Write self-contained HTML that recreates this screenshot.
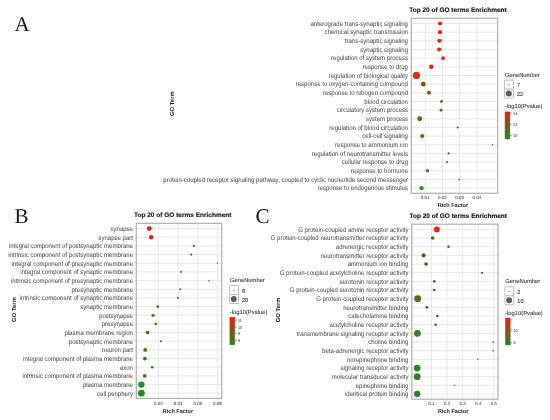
<!DOCTYPE html>
<html><head><meta charset="utf-8"><title>GO enrichment</title>
<style>
html,body{margin:0;padding:0;background:#fff;}
body{width:550px;height:420px;overflow:hidden;}
svg{display:block;}
text{font-family:"Liberation Sans",Arial,sans-serif;text-rendering:geometricPrecision;}
.let{font-family:"Liberation Serif","Times New Roman",serif;font-size:21px;fill:#111;}
.ttl{font-weight:bold;font-size:6.6px;fill:#111;stroke:#111;stroke-width:0.12px;}
.lab{font-size:6.7px;fill:#4e4e4e;stroke:#4e4e4e;stroke-width:0.04px;text-anchor:end;}
.tk{font-size:4.5px;fill:#5a5a5a;stroke:#5a5a5a;stroke-width:0.08px;text-anchor:middle;}
.ax{font-weight:bold;font-size:5.5px;fill:#222;text-anchor:middle;}
.gt{font-size:5.9px;}
.lg{font-size:5.8px;fill:#3a3a3a;stroke:#3a3a3a;stroke-width:0.1px;}
.lgk{font-size:5.6px;fill:#3a3a3a;stroke:#3a3a3a;stroke-width:0.1px;}
.bt{font-size:3.8px;fill:#505050;stroke:#505050;stroke-width:0.06px;}
</style></head>
<body>
<svg width="550" height="420" viewBox="0 0 550 420">
<rect width="550" height="420" fill="#fff"/>
<g id="panelA">
<text x="14.6" y="30.5" class="let">A</text>
<text x="409.2" y="11.6" class="ttl" textLength="97.5" lengthAdjust="spacingAndGlyphs">Top 20 of GO terms Enrichment</text>
<g stroke="#e8e8e8" stroke-width="1">
<line x1="411.3" y1="23.5" x2="497.6" y2="23.5"/>
<line x1="411.3" y1="32.16" x2="497.6" y2="32.16"/>
<line x1="411.3" y1="40.82" x2="497.6" y2="40.82"/>
<line x1="411.3" y1="49.49" x2="497.6" y2="49.49"/>
<line x1="411.3" y1="58.15" x2="497.6" y2="58.15"/>
<line x1="411.3" y1="66.81" x2="497.6" y2="66.81"/>
<line x1="411.3" y1="75.48" x2="497.6" y2="75.48"/>
<line x1="411.3" y1="84.14" x2="497.6" y2="84.14"/>
<line x1="411.3" y1="92.8" x2="497.6" y2="92.8"/>
<line x1="411.3" y1="101.47" x2="497.6" y2="101.47"/>
<line x1="411.3" y1="110.13" x2="497.6" y2="110.13"/>
<line x1="411.3" y1="118.8" x2="497.6" y2="118.8"/>
<line x1="411.3" y1="127.46" x2="497.6" y2="127.46"/>
<line x1="411.3" y1="136.12" x2="497.6" y2="136.12"/>
<line x1="411.3" y1="144.79" x2="497.6" y2="144.79"/>
<line x1="411.3" y1="153.45" x2="497.6" y2="153.45"/>
<line x1="411.3" y1="162.11" x2="497.6" y2="162.11"/>
<line x1="411.3" y1="170.78" x2="497.6" y2="170.78"/>
<line x1="411.3" y1="179.44" x2="497.6" y2="179.44"/>
<line x1="411.3" y1="188.1" x2="497.6" y2="188.1"/>
<line x1="425.2" y1="18.3" x2="425.2" y2="193.3"/>
<line x1="442.5" y1="18.3" x2="442.5" y2="193.3"/>
<line x1="459.7" y1="18.3" x2="459.7" y2="193.3"/>
<line x1="477" y1="18.3" x2="477" y2="193.3"/>
</g>
<rect x="411.3" y="18.3" width="86.3" height="175" fill="none" stroke="#b2b2b2" stroke-width="1.25"/>
<g stroke="#c8c8c8" stroke-width="0.6">
<line x1="409.7" y1="23.5" x2="411.3" y2="23.5"/>
<line x1="409.7" y1="32.16" x2="411.3" y2="32.16"/>
<line x1="409.7" y1="40.82" x2="411.3" y2="40.82"/>
<line x1="409.7" y1="49.49" x2="411.3" y2="49.49"/>
<line x1="409.7" y1="58.15" x2="411.3" y2="58.15"/>
<line x1="409.7" y1="66.81" x2="411.3" y2="66.81"/>
<line x1="409.7" y1="75.48" x2="411.3" y2="75.48"/>
<line x1="409.7" y1="84.14" x2="411.3" y2="84.14"/>
<line x1="409.7" y1="92.8" x2="411.3" y2="92.8"/>
<line x1="409.7" y1="101.47" x2="411.3" y2="101.47"/>
<line x1="409.7" y1="110.13" x2="411.3" y2="110.13"/>
<line x1="409.7" y1="118.8" x2="411.3" y2="118.8"/>
<line x1="409.7" y1="127.46" x2="411.3" y2="127.46"/>
<line x1="409.7" y1="136.12" x2="411.3" y2="136.12"/>
<line x1="409.7" y1="144.79" x2="411.3" y2="144.79"/>
<line x1="409.7" y1="153.45" x2="411.3" y2="153.45"/>
<line x1="409.7" y1="162.11" x2="411.3" y2="162.11"/>
<line x1="409.7" y1="170.78" x2="411.3" y2="170.78"/>
<line x1="409.7" y1="179.44" x2="411.3" y2="179.44"/>
<line x1="409.7" y1="188.1" x2="411.3" y2="188.1"/>
<line x1="425.2" y1="193.3" x2="425.2" y2="194.9"/>
<line x1="442.5" y1="193.3" x2="442.5" y2="194.9"/>
<line x1="459.7" y1="193.3" x2="459.7" y2="194.9"/>
<line x1="477" y1="193.3" x2="477" y2="194.9"/>
</g>
<text x="408" y="25.8" class="lab" textLength="97.52" lengthAdjust="spacingAndGlyphs">anterograde trans-synaptic signaling</text>
<text x="408" y="34.46" class="lab" textLength="83.38" lengthAdjust="spacingAndGlyphs">chemical synaptic transmission</text>
<text x="408" y="43.12" class="lab" textLength="63.22" lengthAdjust="spacingAndGlyphs">trans-synaptic signaling</text>
<text x="408" y="51.79" class="lab" textLength="47.75" lengthAdjust="spacingAndGlyphs">synaptic signaling</text>
<text x="408" y="60.45" class="lab" textLength="77" lengthAdjust="spacingAndGlyphs">regulation of system process</text>
<text x="408" y="69.11" class="lab" textLength="45.4" lengthAdjust="spacingAndGlyphs">response to drug</text>
<text x="408" y="77.78" class="lab" textLength="79.37" lengthAdjust="spacingAndGlyphs">regulation of biological quality</text>
<text x="408" y="86.44" class="lab" textLength="112.33" lengthAdjust="spacingAndGlyphs">response to oxygen-containing compound</text>
<text x="408" y="95.1" class="lab" textLength="85.09" lengthAdjust="spacingAndGlyphs">response to nitrogen compound</text>
<text x="408" y="103.77" class="lab" textLength="43.72" lengthAdjust="spacingAndGlyphs">blood circulation</text>
<text x="408" y="112.43" class="lab" textLength="71.27" lengthAdjust="spacingAndGlyphs">circulatory system process</text>
<text x="408" y="121.1" class="lab" textLength="42.02" lengthAdjust="spacingAndGlyphs">system process</text>
<text x="408" y="129.76" class="lab" textLength="78.69" lengthAdjust="spacingAndGlyphs">regulation of blood circulation</text>
<text x="408" y="138.42" class="lab" textLength="45.73" lengthAdjust="spacingAndGlyphs">cell-cell signaling</text>
<text x="408" y="147.09" class="lab" textLength="72.97" lengthAdjust="spacingAndGlyphs">response to ammonium ion</text>
<text x="408" y="155.75" class="lab" textLength="96.17" lengthAdjust="spacingAndGlyphs">regulation of neurotransmitter levels</text>
<text x="408" y="164.41" class="lab" textLength="66.25" lengthAdjust="spacingAndGlyphs">cellular response to drug</text>
<text x="408" y="173.08" class="lab" textLength="57.17" lengthAdjust="spacingAndGlyphs">response to hormone</text>
<text x="408" y="181.74" class="lab" textLength="244.7" lengthAdjust="spacingAndGlyphs">protein-coupled receptor signaling pathway, coupled to cyclic nucleotide second messenger</text>
<text x="408" y="190.4" class="lab" textLength="90.47" lengthAdjust="spacingAndGlyphs">response to endogenous stimulus</text>
<circle cx="440.1" cy="23.5" r="2.07" fill="#f81a0e"/>
<circle cx="440" cy="32.16" r="2.07" fill="#f81a0e"/>
<circle cx="439.4" cy="40.82" r="2.07" fill="#f81a0e"/>
<circle cx="439.1" cy="49.49" r="2.07" fill="#f81a0e"/>
<circle cx="443.1" cy="58.15" r="1.86" fill="#e8200e"/>
<circle cx="431.3" cy="66.81" r="2.22" fill="#d43018"/>
<circle cx="416.4" cy="75.48" r="3.63" fill="#dc3210"/>
<circle cx="423.3" cy="84.14" r="2.33" fill="#8e4a12"/>
<circle cx="428.9" cy="92.8" r="2.02" fill="#8a4c12"/>
<circle cx="441.5" cy="101.47" r="1.39" fill="#6e5212"/>
<circle cx="441" cy="110.13" r="1.39" fill="#6e5212"/>
<circle cx="419.7" cy="118.8" r="2.43" fill="#6a6214"/>
<circle cx="457.7" cy="127.46" r="1.08" fill="#545818"/>
<circle cx="422.2" cy="136.12" r="2.12" fill="#4c7422"/>
<circle cx="492.5" cy="144.79" r="0.77" fill="#5a6418"/>
<circle cx="448.6" cy="153.45" r="1.08" fill="#347a24"/>
<circle cx="447" cy="162.11" r="1.08" fill="#347a24"/>
<circle cx="427.4" cy="170.78" r="1.7" fill="#2e8624"/>
<circle cx="459.4" cy="179.44" r="0.87" fill="#3a8a2a"/>
<circle cx="421.5" cy="188.1" r="2.22" fill="#2e8a26"/>
<text x="425.2" y="199.4" class="tk">0.01</text>
<text x="442.5" y="199.4" class="tk">0.02</text>
<text x="459.7" y="199.4" class="tk">0.03</text>
<text x="477" y="199.4" class="tk">0.04</text>
<text x="452.9" y="206.9" class="ax">Rich Factor</text>
<text x="0" y="0" class="ax gt" transform="translate(173.5,103.7) rotate(-90)">GO Term</text>
<text x="505" y="76.9" class="lg">GeneNumber</text>
<rect x="504.5" y="80.1" width="9.0" height="9.1" rx="0.8" fill="#fff" stroke="#b0b0b0" stroke-width="0.8"/>
<rect x="504.5" y="89.2" width="9.0" height="8.9" rx="0.8" fill="#fff" stroke="#b0b0b0" stroke-width="0.8"/>
<circle cx="508.8" cy="84.7" r="0.6" fill="#555"/>
<circle cx="508.8" cy="93.5" r="3.0" fill="#5a5a5a"/>
<text x="517" y="87.3" class="lgk">7</text>
<text x="517" y="96.3" class="lgk">22</text>
<text x="504.8" y="108.2" class="lg">-log10(Pvalue)</text>
<defs><linearGradient id="gA" x1="0" y1="0" x2="0" y2="1"><stop offset="0" stop-color="#f01c14"/><stop offset="1" stop-color="#228b22"/></linearGradient></defs>
<rect x="504.8" y="111.6" width="5.3" height="27.6" fill="url(#gA)"/>
<line x1="510.1" y1="113" x2="511.5" y2="113" stroke="#444" stroke-width="0.7"/>
<text x="513.1" y="114.6" class="bt">14</text>
<line x1="510.1" y1="124.2" x2="511.5" y2="124.2" stroke="#444" stroke-width="0.7"/>
<text x="513.1" y="125.8" class="bt">12</text>
<line x1="510.1" y1="135.4" x2="511.5" y2="135.4" stroke="#444" stroke-width="0.7"/>
<text x="513.1" y="137" class="bt">10</text>
</g>
<g id="panelB">
<text x="14.6" y="222.7" class="let">B</text>
<text x="134" y="216.8" class="ttl" textLength="97.5" lengthAdjust="spacingAndGlyphs">Top 20 of GO terms Enrichment</text>
<g stroke="#e8e8e8" stroke-width="1">
<line x1="136.3" y1="228.6" x2="221.7" y2="228.6"/>
<line x1="136.3" y1="237.26" x2="221.7" y2="237.26"/>
<line x1="136.3" y1="245.92" x2="221.7" y2="245.92"/>
<line x1="136.3" y1="254.59" x2="221.7" y2="254.59"/>
<line x1="136.3" y1="263.25" x2="221.7" y2="263.25"/>
<line x1="136.3" y1="271.91" x2="221.7" y2="271.91"/>
<line x1="136.3" y1="280.58" x2="221.7" y2="280.58"/>
<line x1="136.3" y1="289.24" x2="221.7" y2="289.24"/>
<line x1="136.3" y1="297.9" x2="221.7" y2="297.9"/>
<line x1="136.3" y1="306.57" x2="221.7" y2="306.57"/>
<line x1="136.3" y1="315.23" x2="221.7" y2="315.23"/>
<line x1="136.3" y1="323.9" x2="221.7" y2="323.9"/>
<line x1="136.3" y1="332.56" x2="221.7" y2="332.56"/>
<line x1="136.3" y1="341.22" x2="221.7" y2="341.22"/>
<line x1="136.3" y1="349.89" x2="221.7" y2="349.89"/>
<line x1="136.3" y1="358.55" x2="221.7" y2="358.55"/>
<line x1="136.3" y1="367.21" x2="221.7" y2="367.21"/>
<line x1="136.3" y1="375.88" x2="221.7" y2="375.88"/>
<line x1="136.3" y1="384.54" x2="221.7" y2="384.54"/>
<line x1="136.3" y1="393.2" x2="221.7" y2="393.2"/>
<line x1="158.3" y1="223.4" x2="158.3" y2="398.4"/>
<line x1="178.1" y1="223.4" x2="178.1" y2="398.4"/>
<line x1="197.8" y1="223.4" x2="197.8" y2="398.4"/>
<line x1="217.5" y1="223.4" x2="217.5" y2="398.4"/>
</g>
<rect x="136.3" y="223.4" width="85.4" height="175" fill="none" stroke="#b2b2b2" stroke-width="1.25"/>
<g stroke="#c8c8c8" stroke-width="0.6">
<line x1="134.7" y1="228.6" x2="136.3" y2="228.6"/>
<line x1="134.7" y1="237.26" x2="136.3" y2="237.26"/>
<line x1="134.7" y1="245.92" x2="136.3" y2="245.92"/>
<line x1="134.7" y1="254.59" x2="136.3" y2="254.59"/>
<line x1="134.7" y1="263.25" x2="136.3" y2="263.25"/>
<line x1="134.7" y1="271.91" x2="136.3" y2="271.91"/>
<line x1="134.7" y1="280.58" x2="136.3" y2="280.58"/>
<line x1="134.7" y1="289.24" x2="136.3" y2="289.24"/>
<line x1="134.7" y1="297.9" x2="136.3" y2="297.9"/>
<line x1="134.7" y1="306.57" x2="136.3" y2="306.57"/>
<line x1="134.7" y1="315.23" x2="136.3" y2="315.23"/>
<line x1="134.7" y1="323.9" x2="136.3" y2="323.9"/>
<line x1="134.7" y1="332.56" x2="136.3" y2="332.56"/>
<line x1="134.7" y1="341.22" x2="136.3" y2="341.22"/>
<line x1="134.7" y1="349.89" x2="136.3" y2="349.89"/>
<line x1="134.7" y1="358.55" x2="136.3" y2="358.55"/>
<line x1="134.7" y1="367.21" x2="136.3" y2="367.21"/>
<line x1="134.7" y1="375.88" x2="136.3" y2="375.88"/>
<line x1="134.7" y1="384.54" x2="136.3" y2="384.54"/>
<line x1="134.7" y1="393.2" x2="136.3" y2="393.2"/>
<line x1="158.3" y1="398.4" x2="158.3" y2="400"/>
<line x1="178.1" y1="398.4" x2="178.1" y2="400"/>
<line x1="197.8" y1="398.4" x2="197.8" y2="400"/>
<line x1="217.5" y1="398.4" x2="217.5" y2="400"/>
</g>
<text x="133" y="230.9" class="lab" textLength="22.53" lengthAdjust="spacingAndGlyphs">synapse</text>
<text x="133" y="239.56" class="lab" textLength="34.64" lengthAdjust="spacingAndGlyphs">synapse part</text>
<text x="133" y="248.22" class="lab" textLength="124.08" lengthAdjust="spacingAndGlyphs">integral component of postsynaptic membrane</text>
<text x="133" y="256.89" class="lab" textLength="124.75" lengthAdjust="spacingAndGlyphs">intrinsic component of postsynaptic membrane</text>
<text x="133" y="265.55" class="lab" textLength="121.39" lengthAdjust="spacingAndGlyphs">integral component of presynaptic membrane</text>
<text x="133" y="274.21" class="lab" textLength="112.65" lengthAdjust="spacingAndGlyphs">integral component of synaptic membrane</text>
<text x="133" y="282.88" class="lab" textLength="122.06" lengthAdjust="spacingAndGlyphs">intrinsic component of presynaptic membrane</text>
<text x="133" y="291.54" class="lab" textLength="61.53" lengthAdjust="spacingAndGlyphs">presynaptic membrane</text>
<text x="133" y="300.2" class="lab" textLength="113.31" lengthAdjust="spacingAndGlyphs">intrinsic component of synaptic membrane</text>
<text x="133" y="308.87" class="lab" textLength="52.79" lengthAdjust="spacingAndGlyphs">synaptic membrane</text>
<text x="133" y="317.53" class="lab" textLength="33.97" lengthAdjust="spacingAndGlyphs">postsynapse</text>
<text x="133" y="326.2" class="lab" textLength="31.28" lengthAdjust="spacingAndGlyphs">presynapse</text>
<text x="133" y="334.86" class="lab" textLength="68.59" lengthAdjust="spacingAndGlyphs">plasma membrane region</text>
<text x="133" y="343.52" class="lab" textLength="64.22" lengthAdjust="spacingAndGlyphs">postsynaptic membrane</text>
<text x="133" y="352.19" class="lab" textLength="30.94" lengthAdjust="spacingAndGlyphs">neuron part</text>
<text x="133" y="360.85" class="lab" textLength="109.96" lengthAdjust="spacingAndGlyphs">integral component of plasma membrane</text>
<text x="133" y="369.51" class="lab" textLength="13.12" lengthAdjust="spacingAndGlyphs">axon</text>
<text x="133" y="378.18" class="lab" textLength="110.62" lengthAdjust="spacingAndGlyphs">intrinsic component of plasma membrane</text>
<text x="133" y="386.84" class="lab" textLength="50.1" lengthAdjust="spacingAndGlyphs">plasma membrane</text>
<text x="133" y="395.5" class="lab" textLength="35.98" lengthAdjust="spacingAndGlyphs">cell periphery</text>
<circle cx="149.2" cy="228.6" r="2.38" fill="#f81a0e"/>
<circle cx="151.1" cy="237.26" r="2.22" fill="#f81a0e"/>
<circle cx="193.9" cy="245.92" r="1.08" fill="#c43018"/>
<circle cx="191.2" cy="254.59" r="1.08" fill="#bc2a18"/>
<circle cx="217.5" cy="263.25" r="0.77" fill="#c44030"/>
<circle cx="181" cy="271.91" r="1.08" fill="#a45a20"/>
<circle cx="209.1" cy="280.58" r="0.87" fill="#a46030"/>
<circle cx="180.2" cy="289.24" r="1.08" fill="#8e5a20"/>
<circle cx="177.9" cy="297.9" r="1.08" fill="#9a6020"/>
<circle cx="157.8" cy="306.57" r="1.39" fill="#7c5a1a"/>
<circle cx="153.1" cy="315.23" r="1.6" fill="#7a4e14"/>
<circle cx="155.8" cy="323.9" r="1.29" fill="#7a5a14"/>
<circle cx="147.6" cy="332.56" r="1.81" fill="#5e5a14"/>
<circle cx="160.9" cy="341.22" r="1.08" fill="#4a5a18"/>
<circle cx="145.2" cy="349.89" r="1.91" fill="#3a7a20"/>
<circle cx="144.9" cy="358.55" r="1.91" fill="#3a7a20"/>
<circle cx="152.2" cy="367.21" r="1.29" fill="#3a6a18"/>
<circle cx="144.7" cy="375.88" r="1.91" fill="#3a7a20"/>
<circle cx="141.4" cy="384.54" r="3.16" fill="#2a8a22"/>
<circle cx="141.4" cy="393.2" r="3.37" fill="#2a8a22"/>
<text x="158.3" y="404.5" class="tk">0.02</text>
<text x="178.1" y="404.5" class="tk">0.04</text>
<text x="197.8" y="404.5" class="tk">0.06</text>
<text x="217.5" y="404.5" class="tk">0.08</text>
<text x="178" y="412.9" class="ax">Rich Factor</text>
<text x="0" y="0" class="ax gt" transform="translate(15.6,309.5) rotate(-90)">GO Term</text>
<text x="230" y="282.4" class="lg">GeneNumber</text>
<rect x="229.5" y="285.5" width="9.0" height="9.1" rx="0.8" fill="#fff" stroke="#b0b0b0" stroke-width="0.8"/>
<rect x="229.5" y="294.6" width="9.0" height="8.9" rx="0.8" fill="#fff" stroke="#b0b0b0" stroke-width="0.8"/>
<circle cx="233.8" cy="290.1" r="0.6" fill="#555"/>
<circle cx="233.8" cy="298.9" r="3.0" fill="#5a5a5a"/>
<text x="242" y="292.7" class="lgk">6</text>
<text x="242" y="301.7" class="lgk">20</text>
<text x="229.8" y="314.2" class="lg">-log10(Pvalue)</text>
<defs><linearGradient id="gB" x1="0" y1="0" x2="0" y2="1"><stop offset="0" stop-color="#f01c14"/><stop offset="1" stop-color="#228b22"/></linearGradient></defs>
<rect x="229.6" y="317.1" width="5.3" height="27.8" fill="url(#gB)"/>
<line x1="234.9" y1="320.3" x2="236.3" y2="320.3" stroke="#444" stroke-width="0.7"/>
<text x="237.9" y="321.9" class="bt">11</text>
<line x1="234.9" y1="327.1" x2="236.3" y2="327.1" stroke="#444" stroke-width="0.7"/>
<text x="237.9" y="328.7" class="bt">10</text>
<line x1="234.9" y1="333.8" x2="236.3" y2="333.8" stroke="#444" stroke-width="0.7"/>
<text x="237.9" y="335.4" class="bt">9</text>
<line x1="234.9" y1="340.5" x2="236.3" y2="340.5" stroke="#444" stroke-width="0.7"/>
<text x="237.9" y="342.1" class="bt">8</text>
</g>
<g id="panelC">
<text x="255.6" y="223.1" class="let">C</text>
<text x="409.5" y="218" class="ttl" textLength="97.5" lengthAdjust="spacingAndGlyphs">Top 20 of GO terms Enrichment</text>
<g stroke="#e8e8e8" stroke-width="1">
<line x1="411.8" y1="229.4" x2="498" y2="229.4"/>
<line x1="411.8" y1="238.06" x2="498" y2="238.06"/>
<line x1="411.8" y1="246.72" x2="498" y2="246.72"/>
<line x1="411.8" y1="255.39" x2="498" y2="255.39"/>
<line x1="411.8" y1="264.05" x2="498" y2="264.05"/>
<line x1="411.8" y1="272.71" x2="498" y2="272.71"/>
<line x1="411.8" y1="281.38" x2="498" y2="281.38"/>
<line x1="411.8" y1="290.04" x2="498" y2="290.04"/>
<line x1="411.8" y1="298.7" x2="498" y2="298.7"/>
<line x1="411.8" y1="307.37" x2="498" y2="307.37"/>
<line x1="411.8" y1="316.03" x2="498" y2="316.03"/>
<line x1="411.8" y1="324.7" x2="498" y2="324.7"/>
<line x1="411.8" y1="333.36" x2="498" y2="333.36"/>
<line x1="411.8" y1="342.02" x2="498" y2="342.02"/>
<line x1="411.8" y1="350.69" x2="498" y2="350.69"/>
<line x1="411.8" y1="359.35" x2="498" y2="359.35"/>
<line x1="411.8" y1="368.01" x2="498" y2="368.01"/>
<line x1="411.8" y1="376.68" x2="498" y2="376.68"/>
<line x1="411.8" y1="385.34" x2="498" y2="385.34"/>
<line x1="411.8" y1="394" x2="498" y2="394"/>
<line x1="431.5" y1="224.2" x2="431.5" y2="399.2"/>
<line x1="447.1" y1="224.2" x2="447.1" y2="399.2"/>
<line x1="462.7" y1="224.2" x2="462.7" y2="399.2"/>
<line x1="478.3" y1="224.2" x2="478.3" y2="399.2"/>
<line x1="493.8" y1="224.2" x2="493.8" y2="399.2"/>
</g>
<rect x="411.8" y="224.2" width="86.2" height="175" fill="none" stroke="#b2b2b2" stroke-width="1.25"/>
<g stroke="#c8c8c8" stroke-width="0.6">
<line x1="410.2" y1="229.4" x2="411.8" y2="229.4"/>
<line x1="410.2" y1="238.06" x2="411.8" y2="238.06"/>
<line x1="410.2" y1="246.72" x2="411.8" y2="246.72"/>
<line x1="410.2" y1="255.39" x2="411.8" y2="255.39"/>
<line x1="410.2" y1="264.05" x2="411.8" y2="264.05"/>
<line x1="410.2" y1="272.71" x2="411.8" y2="272.71"/>
<line x1="410.2" y1="281.38" x2="411.8" y2="281.38"/>
<line x1="410.2" y1="290.04" x2="411.8" y2="290.04"/>
<line x1="410.2" y1="298.7" x2="411.8" y2="298.7"/>
<line x1="410.2" y1="307.37" x2="411.8" y2="307.37"/>
<line x1="410.2" y1="316.03" x2="411.8" y2="316.03"/>
<line x1="410.2" y1="324.7" x2="411.8" y2="324.7"/>
<line x1="410.2" y1="333.36" x2="411.8" y2="333.36"/>
<line x1="410.2" y1="342.02" x2="411.8" y2="342.02"/>
<line x1="410.2" y1="350.69" x2="411.8" y2="350.69"/>
<line x1="410.2" y1="359.35" x2="411.8" y2="359.35"/>
<line x1="410.2" y1="368.01" x2="411.8" y2="368.01"/>
<line x1="410.2" y1="376.68" x2="411.8" y2="376.68"/>
<line x1="410.2" y1="385.34" x2="411.8" y2="385.34"/>
<line x1="410.2" y1="394" x2="411.8" y2="394"/>
<line x1="431.5" y1="399.2" x2="431.5" y2="400.8"/>
<line x1="447.1" y1="399.2" x2="447.1" y2="400.8"/>
<line x1="462.7" y1="399.2" x2="462.7" y2="400.8"/>
<line x1="478.3" y1="399.2" x2="478.3" y2="400.8"/>
<line x1="493.8" y1="399.2" x2="493.8" y2="400.8"/>
</g>
<text x="408.5" y="231.7" class="lab" textLength="110.29" lengthAdjust="spacingAndGlyphs">G protein-coupled amine receptor activity</text>
<text x="408.5" y="240.36" class="lab" textLength="137.86" lengthAdjust="spacingAndGlyphs">G protein-coupled neurotransmitter receptor activity</text>
<text x="408.5" y="249.02" class="lab" textLength="72.63" lengthAdjust="spacingAndGlyphs">adrenergic receptor activity</text>
<text x="408.5" y="257.69" class="lab" textLength="88.09" lengthAdjust="spacingAndGlyphs">neurotransmitter receptor activity</text>
<text x="408.5" y="266.35" class="lab" textLength="60.86" lengthAdjust="spacingAndGlyphs">ammonium ion binding</text>
<text x="408.5" y="275.01" class="lab" textLength="128.79" lengthAdjust="spacingAndGlyphs">G protein-coupled acetylcholine receptor activity</text>
<text x="408.5" y="283.68" class="lab" textLength="68.93" lengthAdjust="spacingAndGlyphs">serotonin receptor activity</text>
<text x="408.5" y="292.34" class="lab" textLength="118.7" lengthAdjust="spacingAndGlyphs">G protein-coupled serotonin receptor activity</text>
<text x="408.5" y="301" class="lab" textLength="92.13" lengthAdjust="spacingAndGlyphs">G protein-coupled receptor activity</text>
<text x="408.5" y="309.67" class="lab" textLength="65.24" lengthAdjust="spacingAndGlyphs">neurotransmitter binding</text>
<text x="408.5" y="318.33" class="lab" textLength="60.2" lengthAdjust="spacingAndGlyphs">catecholamine binding</text>
<text x="408.5" y="327" class="lab" textLength="79.02" lengthAdjust="spacingAndGlyphs">acetylcholine receptor activity</text>
<text x="408.5" y="335.66" class="lab" textLength="111.97" lengthAdjust="spacingAndGlyphs">transmembrane signaling receptor activity</text>
<text x="408.5" y="344.32" class="lab" textLength="40.36" lengthAdjust="spacingAndGlyphs">choline binding</text>
<text x="408.5" y="352.99" class="lab" textLength="86.42" lengthAdjust="spacingAndGlyphs">beta-adrenergic receptor activity</text>
<text x="408.5" y="361.65" class="lab" textLength="61.55" lengthAdjust="spacingAndGlyphs">norepinephrine binding</text>
<text x="408.5" y="370.31" class="lab" textLength="67.92" lengthAdjust="spacingAndGlyphs">signaling receptor activity</text>
<text x="408.5" y="378.98" class="lab" textLength="76.66" lengthAdjust="spacingAndGlyphs">molecular transducer activity</text>
<text x="408.5" y="387.64" class="lab" textLength="52.81" lengthAdjust="spacingAndGlyphs">epinephrine binding</text>
<text x="408.5" y="396.3" class="lab" textLength="63.56" lengthAdjust="spacingAndGlyphs">identical protein binding</text>
<circle cx="436.8" cy="229.4" r="2.85" fill="#f81a0e"/>
<circle cx="432.6" cy="238.06" r="1.81" fill="#7a5218"/>
<circle cx="448.5" cy="246.72" r="1.29" fill="#6a5214"/>
<circle cx="423.6" cy="255.39" r="2.02" fill="#6e5018"/>
<circle cx="426.1" cy="264.05" r="1.81" fill="#5e5212"/>
<circle cx="482.1" cy="272.71" r="1.08" fill="#4a4a10"/>
<circle cx="434.3" cy="281.38" r="1.29" fill="#4a5a10"/>
<circle cx="434.3" cy="290.04" r="1.29" fill="#4a5a10"/>
<circle cx="417.7" cy="298.7" r="3.47" fill="#68661a"/>
<circle cx="426.9" cy="307.37" r="1.39" fill="#4a5a10"/>
<circle cx="437.3" cy="316.03" r="1.29" fill="#3a6a18"/>
<circle cx="435.6" cy="324.7" r="1.29" fill="#3a6a18"/>
<circle cx="417.4" cy="333.36" r="3.47" fill="#467c26"/>
<circle cx="493.3" cy="342.02" r="0.87" fill="#4a8a3a"/>
<circle cx="493.3" cy="350.69" r="0.87" fill="#4a8a3a"/>
<circle cx="477.8" cy="359.35" r="0.77" fill="#4a7a3a"/>
<circle cx="417.2" cy="368.01" r="3.37" fill="#2e8226"/>
<circle cx="417.2" cy="376.68" r="3.37" fill="#2e8226"/>
<circle cx="454.7" cy="385.34" r="0.77" fill="#3a8a2a"/>
<circle cx="417.2" cy="394" r="3.16" fill="#2e8226"/>
<text x="431.5" y="405.3" class="tk">0.1</text>
<text x="447.1" y="405.3" class="tk">0.2</text>
<text x="462.7" y="405.3" class="tk">0.3</text>
<text x="478.3" y="405.3" class="tk">0.4</text>
<text x="493.8" y="405.3" class="tk">0.5</text>
<text x="453.2" y="413.1" class="ax">Rich Factor</text>
<text x="0" y="0" class="ax gt" transform="translate(279.5,309.9) rotate(-90)">GO Term</text>
<text x="505.3" y="283.2" class="lg">GeneNumber</text>
<rect x="504.8" y="286.8" width="9.0" height="9.1" rx="0.8" fill="#fff" stroke="#b0b0b0" stroke-width="0.8"/>
<rect x="504.8" y="295.9" width="9.0" height="8.9" rx="0.8" fill="#fff" stroke="#b0b0b0" stroke-width="0.8"/>
<circle cx="509.1" cy="291.4" r="0.6" fill="#555"/>
<circle cx="509.1" cy="300.2" r="3.0" fill="#5a5a5a"/>
<text x="517.3" y="294" class="lgk">2</text>
<text x="517.3" y="303" class="lgk">10</text>
<text x="505.1" y="315" class="lg">-log10(Pvalue)</text>
<defs><linearGradient id="gC" x1="0" y1="0" x2="0" y2="1"><stop offset="0" stop-color="#f01c14"/><stop offset="1" stop-color="#228b22"/></linearGradient></defs>
<rect x="505.2" y="317.9" width="5.3" height="27.3" fill="url(#gC)"/>
<line x1="510.5" y1="330.2" x2="511.9" y2="330.2" stroke="#444" stroke-width="0.7"/>
<text x="513.5" y="331.8" class="bt">10</text>
<line x1="510.5" y1="342.7" x2="511.9" y2="342.7" stroke="#444" stroke-width="0.7"/>
<text x="513.5" y="344.3" class="bt">5</text>
</g>
</svg>
</body></html>
